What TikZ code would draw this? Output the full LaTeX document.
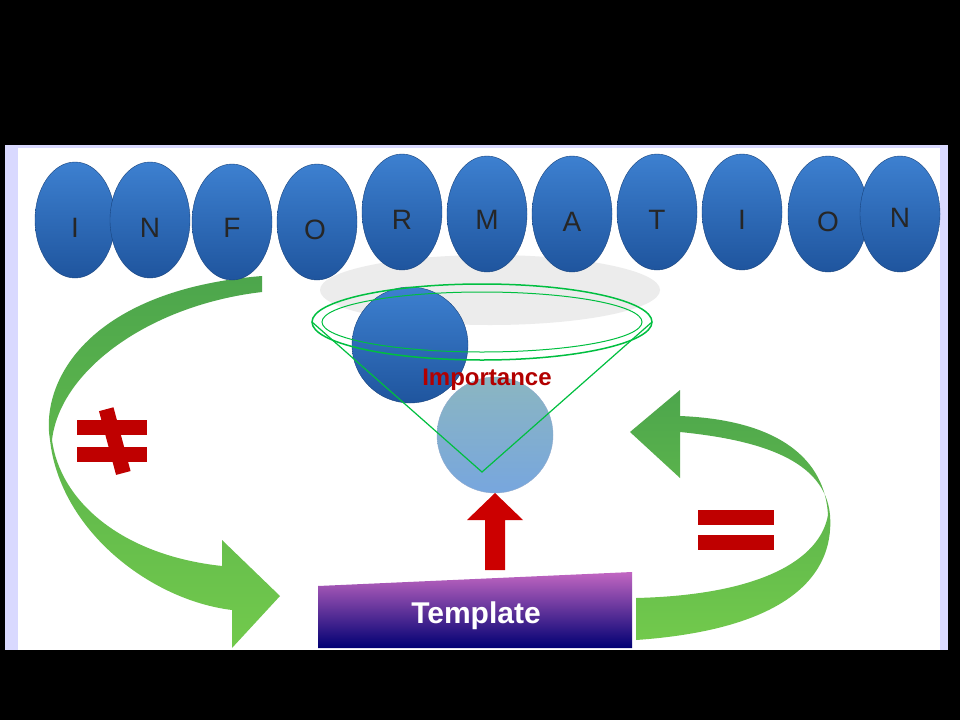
\documentclass[tikz,border=0pt]{standalone}
\usepackage{fontspec}
\setmainfont{Liberation Sans}
\usetikzlibrary{shapes.geometric}
\definecolor{btop}{HTML}{3D80D0}
\definecolor{bbot}{HTML}{1F559E}
\begin{document}
\begin{tikzpicture}[x=1pt,y=-1pt,
 ball/.style={ellipse,minimum width=80pt,minimum height=116pt,inner sep=0,top color=btop,bottom color=bbot,draw=bbot!80!black},
 letter/.style={font=\fontsize{28}{30}\selectfont,text=black!85},
 band/.style={top color=green!50!black!70,bottom color=green!60!lime!70!black!70,draw=none},
 sym/.style={fill=red!75!black}]
\fill[black] (0,0) rectangle (960,720);
\fill[white!85!blue] (5,145) rectangle (948,650);
\fill[white] (18,148) rectangle (940,650);
\useasboundingbox (0,0) rectangle (960,720);
% grey disc behind
\fill[gray!15] (490,290) ellipse (170 and 35);
% green bands
\path[band] (262,276) .. controls (90,290) and (40,380) .. (50,440) .. controls (60,530) and (150,600) .. (232,610)
 -- (232,648) -- (280,596) -- (222,540) -- (222,566) .. controls (120,555) and (60,500) .. (52,440) .. controls (60,370) and (150,305) .. (262,292) -- cycle;
\path[band] (636,640) .. controls (780,630) and (835,580) .. (830,515) .. controls (825,460) and (760,440) .. (680,432)
 -- (680,478) -- (630,432) -- (680,390) -- (680,416) .. controls (780,420) and (825,460) .. (828,515) .. controls (820,560) and (760,595) .. (636,598) -- cycle;
% balls
\foreach \x/\y/\n in {75/220/b1,150/220/b2,232/222/b3,317/222/b4,402/212/b5,487/214/b6,572/214/b7,657/212/b8,742/212/b9,828/214/b10,900/214/b11}
 \node[ball] (\n) at (\x,\y) {};
\foreach \x/\y/\l/\n in {75/228/I/t1,150/228/N/t2,232/228/F/t3,315/230/O/t4,402/220/R/t5,487/220/M/t6,572/222/A/t7,657/220/T/t8,742/220/I/t9,828/222/O/t10,900/218/N/t11}
 \node[letter] (\n) at (\x,\y) {\l};
% funnel
\node[ball,minimum width=116pt,minimum height=116pt] (s1) at (410,345) {};
\node[circle,minimum size=116pt,inner sep=0,top color=blue!20!cyan!30!gray!70,bottom color=btop!70,draw=bbot!50] (s2) at (495,435) {};
\draw[green!50!teal,line width=1.2pt] (312,322) -- (482,472) -- (652,322);
\draw[green!50!teal,line width=1.5pt] (482,322) ellipse (170 and 38);
\draw[green!50!teal,line width=1pt] (482,322) ellipse (160 and 30);
\node[font=\bfseries\fontsize{24}{26}\selectfont,text=red!70!black] (imp) at (487,380) {Importance};
% template
\path[top color=violet!80!magenta!60,bottom color=blue!45!black,draw=none] (318,586) -- (632,572) -- (632,648) -- (318,648) -- cycle;
\node[font=\bfseries\fontsize{30}{32}\selectfont,text=white] (tpl) at (476,616) {Template};
\fill[red!80!black] (485,570) -- (485,520) -- (467,520) -- (495,493) -- (523,520) -- (505,520) -- (505,570) -- cycle;
% symbols
\fill[sym] (77,420) rectangle (147,435);
\fill[sym] (77,447) rectangle (147,462);
\fill[sym,rotate around={15:(115,440)}] (107,408) rectangle (122,474);
\fill[sym] (698,510) rectangle (774,525);
\fill[sym] (698,535) rectangle (774,550);
\end{tikzpicture}
\end{document}
